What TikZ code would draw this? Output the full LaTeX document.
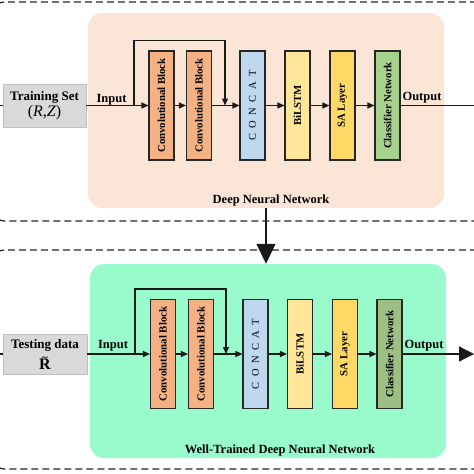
\documentclass[tikz,border=0pt]{standalone}
\usepackage{fontspec}
\setmainfont{Liberation Serif}
\usetikzlibrary{arrows.meta}
\definecolor{peach}{HTML}{FBE5D6}
\definecolor{mint}{HTML}{99FACC}
\definecolor{convc}{HTML}{F4B183}
\definecolor{concatc}{HTML}{BDD7EE}
\definecolor{bilstmc}{HTML}{FFE699}
\definecolor{sac}{HTML}{FFD966}
\definecolor{clsc}{HTML}{A9D18E}
\definecolor{clsd}{HTML}{9CC083}
\definecolor{grayc}{HTML}{D9D9D9}
\newcommand{\tildeR}{\ooalign{R\cr\hidewidth\raisebox{8pt}{\fontsize{11}{11}\selectfont\textasciitilde}\hidewidth\cr}}
\begin{document}
\begin{tikzpicture}[x=1pt,y=1pt,
  blk/.style={draw=black!85, line width=1.1pt, rotate=90, minimum width=109pt,
    minimum height=25pt, inner sep=0pt, font=\bfseries\fontsize{10.8}{12}\selectfont},
  panel/.style={rounded corners=14pt, inner sep=0pt},
  dashframe/.style={draw=black!85, line width=1.2pt, dash pattern=on 7pt off 4pt, rounded corners=10pt},
  databox/.style={fill=grayc, draw=black!25, line width=0.8pt, inner sep=0pt, align=center,
    font=\bfseries\fontsize{13}{18}\selectfont},
  lab/.style={inner sep=0pt, anchor=base, font=\bfseries\fontsize{12.5}{14}\selectfont},
  conn/.style={draw=black!90, line width=1.2pt},
  arr/.style={conn, -{Triangle[length=7pt,width=6pt]}},
]
\useasboundingbox (0,0) rectangle (474,-474);

% ---------- top panel ----------
\draw[dashframe] (-6,-2) rectangle (490,-221);
\node[panel, fill=peach, minimum width=356pt, minimum height=195pt] (peach) at (266,-110.5) {};

\node[databox, minimum width=83pt, minimum height=43pt] (train) at (44.5,-105.5)
  {Training Set\\[-2pt]{\fontsize{16}{18}\selectfont\mdseries(\textit{R},\textit{Z})}};

\node[blk, fill=convc] (c1) at (161.5,-105.5) {Convolutional Block};
\node[blk, fill=convc] (c2) at (199,-105.5) {Convolutional Block};
\node[blk, fill=concatc, font=\fontsize{10.5}{12}\selectfont] (cc) at (252.5,-105.5)
  {C\hspace{5.5pt}O\hspace{5.5pt}N\hspace{5.5pt}C\hspace{5.5pt}A\hspace{5.5pt}T};
\node[blk, fill=bilstmc] (bl) at (297.5,-105.5) {BiLSTM};
\node[blk, fill=sac] (sa) at (342.5,-105.5) {SA Layer};
\node[blk, fill=clsc] (cl) at (387.5,-105.5) {Classifier Network};

\coordinate (l1) at (0,-105.5);
\coordinate (s1) at (134,-105.5);
\coordinate (s2) at (225,-105.5);
\coordinate (o1) at (474,-105.5);
\draw[conn] (l1) -- (train);
\draw[arr] (train) -- (c1);
\draw[arr] (s1) -- ++(0,65) -| (s2);
\draw[arr] (c1) -- (c2);
\draw[arr] (c2) -- (cc);
\draw[arr] (cc) -- (bl);
\draw[arr] (bl) -- (sa);
\draw[arr] (sa) -- (cl);
\draw[conn] (cl) -- (o1);

\node[lab] (in1) at (111.5,-102) {Input};
\node[lab] (out1) at (422,-100) {Output};
\node[lab] (dnn) at (271,-203) {Deep Neural Network};

% ---------- bottom panel ----------
\draw[dashframe] (-6,-250) rectangle (490,-469);
\node[panel, fill=mint, minimum width=356pt, minimum height=194pt] (green) at (268,-361) {};

\node[databox, minimum width=84pt, minimum height=40pt] (test) at (45,-354)
  {Testing data\\[3pt]{\fontsize{16}{18}\selectfont\tildeR}};

\node[blk, fill=convc] (d1) at (163,-354) {Convolutional Block};
\node[blk, fill=convc] (d2) at (201,-354) {Convolutional Block};
\node[blk, fill=concatc, font=\fontsize{10.5}{12}\selectfont] (dc) at (255.5,-354)
  {C\hspace{5.5pt}O\hspace{5.5pt}N\hspace{5.5pt}C\hspace{5.5pt}A\hspace{5.5pt}T};
\node[blk, fill=bilstmc] (dl) at (300,-354) {BiLSTM};
\node[blk, fill=sac] (ds) at (345,-354) {SA Layer};
\node[blk, fill=clsd] (dk) at (389.5,-354) {Classifier Network};

\coordinate (l2) at (0,-354);
\coordinate (t1) at (135,-354);
\coordinate (t2) at (226,-354);
\coordinate (o2) at (474,-354);
\draw[conn] (l2) -- (test);
\draw[arr] (test) -- (d1);
\draw[arr] (t1) -- ++(0,65) -| (t2);
\draw[arr] (d1) -- (d2);
\draw[arr] (d2) -- (dc);
\draw[arr] (dc) -- (dl);
\draw[arr] (dl) -- (ds);
\draw[arr] (ds) -- (dk);
\draw[conn, -{Triangle[length=15pt,width=15pt]}] (dk) -- (o2);

\node[lab] (in2) at (113,-348) {Input};
\node[lab] (out2) at (424,-348) {Output};
\node[lab] (wdnn) at (280,-453) {Well-Trained Deep Neural Network};

% ---------- link between panels ----------
\draw[conn, line width=1.4pt, -{Triangle[length=20pt,width=19pt]}] (peach.south) -- (peach.south |- green.north);
\end{tikzpicture}
\end{document}
